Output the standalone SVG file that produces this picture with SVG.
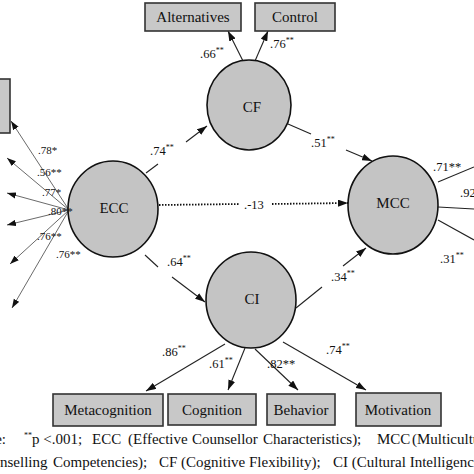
<svg xmlns="http://www.w3.org/2000/svg" width="474" height="474" viewBox="0 0 474 474" font-family="'Liberation Serif', 'DejaVu Serif', serif">
<defs>
<marker id="ah" viewBox="0 0 10 7" refX="10" refY="3.5" markerWidth="10" markerHeight="7" markerUnits="userSpaceOnUse" orient="auto"><path d="M0,0 L10,3.5 L0,7 z" fill="#111"/></marker>
<marker id="ahs" viewBox="0 0 10 7" refX="10" refY="3.5" markerWidth="9" markerHeight="7" markerUnits="userSpaceOnUse" orient="auto"><path d="M0,0 L10,3.5 L0,7 z" fill="#111"/></marker>
</defs>
<style>
text{font-family:'Liberation Serif','DejaVu Serif',serif;fill:#111}
.node{fill:#c4c4c4;stroke:#111;stroke-width:1.6}
.box{fill:#c8c8c8;stroke:#333;stroke-width:1.6}
.nl{font-size:15px;text-anchor:middle}
.bl{font-size:15px;text-anchor:middle}
.lab{font-size:12.5px}
.sl{font-size:11px}
.sup{font-size:8px}
.c{stroke:#222;stroke-width:1.1;fill:none}
.f{stroke:#444;stroke-width:0.8;fill:none}
.note{font-size:15px}
</style>
<g id="connectors">
<line class="c" x1="146" y1="173" x2="158" y2="164"/>
<line class="c" x1="186" y1="142" x2="207" y2="126" marker-end="url(#ah)"/>
<line class="c" x1="288" y1="124" x2="311" y2="134"/>
<line class="c" x1="346" y1="150" x2="372" y2="161" marker-end="url(#ah)"/>
<line x1="159" y1="205" x2="240" y2="204" stroke="#111" stroke-width="1.8" stroke-dasharray="1.5 1.5"/>
<line x1="272" y1="204" x2="348" y2="203" stroke="#111" stroke-width="1.8" stroke-dasharray="1.5 1.5" marker-end="url(#ah)"/>
<line class="c" x1="145" y1="255" x2="158" y2="267"/>
<line class="c" x1="172" y1="277" x2="205" y2="302" marker-end="url(#ah)"/>
<line class="c" x1="296" y1="308" x2="322" y2="287"/>
<line class="c" x1="343" y1="266" x2="366" y2="248" marker-end="url(#ah)"/>
<line class="c" x1="438" y1="182" x2="474" y2="167"/>
<line class="c" x1="438" y1="207" x2="474" y2="209"/>
<line class="c" x1="438" y1="220" x2="474" y2="240"/>
<line class="c" x1="243" y1="61" x2="228" y2="31" marker-end="url(#ah)"/>
<line class="c" x1="255" y1="61" x2="268" y2="31" marker-end="url(#ah)"/>
<line class="c" x1="225" y1="344" x2="146" y2="391" marker-end="url(#ah)"/>
<line class="c" x1="245" y1="348" x2="228" y2="390" marker-end="url(#ah)"/>
<line class="c" x1="255" y1="349" x2="298" y2="390" marker-end="url(#ah)"/>
<line class="c" x1="283" y1="342" x2="366" y2="390" marker-end="url(#ah)"/>
<line class="f" x1="69" y1="210" x2="11" y2="121" marker-end="url(#ahs)"/>
<line class="f" x1="69" y1="210" x2="7" y2="158" marker-end="url(#ahs)"/>
<line class="f" x1="69" y1="210" x2="7" y2="193" marker-end="url(#ahs)"/>
<line class="f" x1="69" y1="210" x2="7" y2="225" marker-end="url(#ahs)"/>
<line class="f" x1="69" y1="210" x2="10" y2="264" marker-end="url(#ahs)"/>
<line class="f" x1="69" y1="210" x2="12" y2="308" marker-end="url(#ahs)"/>
</g>
<g id="ECC"><ellipse class="node" cx="113" cy="209" rx="45" ry="48"/><text class="nl" x="114" y="213" font-size="16">ECC</text></g>
<g id="CF"><ellipse class="node" cx="249" cy="105" rx="42" ry="45"/><text class="nl" x="252" y="112">CF</text></g>
<g id="MCC"><ellipse class="node" cx="393" cy="205" rx="45" ry="49"/><text class="nl" x="393" y="208" font-size="14">MCC</text></g>
<g id="CI"><ellipse class="node" cx="251" cy="300" rx="45" ry="48"/><text class="nl" x="252" y="304">CI</text></g>
<g id="Alternatives"><rect class="box" x="145" y="3" width="96" height="28"/><text class="bl" x="193" y="22">Alternatives</text></g>
<g id="Control"><rect class="box" x="255" y="3" width="80" height="28"/><text class="bl" x="295" y="22">Control</text></g>
<g id="LeftBox"><rect class="box" x="-10" y="79" width="20" height="54"/></g>
<g id="Metacognition"><rect class="box" x="53" y="394" width="110" height="32"/><text class="bl" x="108" y="415">Metacognition</text></g>
<g id="Cognition"><rect class="box" x="168" y="394" width="88" height="31"/><text class="bl" x="212" y="415">Cognition</text></g>
<g id="Behavior"><rect class="box" x="267" y="394" width="68" height="31"/><text class="bl" x="301" y="415">Behavior</text></g>
<g id="Motivation"><rect class="box" x="356" y="393" width="85" height="33"/><text class="bl" x="398" y="415">Motivation</text></g>
<g id="labels">
<text class="lab" x="150" y="155">.74<tspan class="sup" dy="-5">**</tspan></text>
<text class="lab" x="200" y="58">.66<tspan class="sup" dy="-5">**</tspan></text>
<text class="lab" x="270" y="48">.76<tspan class="sup" dy="-5">**</tspan></text>
<text class="lab" x="311" y="147">.51<tspan class="sup" dy="-5">**</tspan></text>
<text class="lab" x="244" y="209">.-13</text>
<text class="lab" x="167" y="266">.64<tspan class="sup" dy="-5">**</tspan></text>
<text class="lab" x="331" y="281">.34<tspan class="sup" dy="-5">**</tspan></text>
<text class="lab" x="433" y="171">.71**</text>
<text class="lab" x="460" y="197">.92**</text>
<text class="lab" x="440" y="263">.31<tspan class="sup" dy="-5">**</tspan></text>
<text class="lab" x="162" y="356">.86<tspan class="sup" dy="-5">**</tspan></text>
<text class="lab" x="209" y="368">.61<tspan class="sup" dy="-5">**</tspan></text>
<text class="lab" x="267" y="368">.82**</text>
<text class="lab" x="326" y="354">.74<tspan class="sup" dy="-5">**</tspan></text>
<text class="sl" x="38" y="154">.78*</text>
<text class="sl" x="37" y="176">.56**</text>
<text class="sl" x="42" y="196">.77*</text>
<text class="sl" x="48" y="215">.80**</text>
<text class="sl" x="37" y="240">.76**</text>
<text class="sl" x="56" y="258">.76**</text>
</g>
<g id="note">
<text class="note" y="444"><tspan x="6" text-anchor="end">Note:</tspan><tspan x="24" class="sup" dy="-6">**</tspan><tspan x="32" dy="6">p &lt;.001;</tspan><tspan x="92">ECC</tspan><tspan x="128">(Effective</tspan><tspan x="192">Counsellor</tspan><tspan x="263">Characteristics);</tspan><tspan x="377">MCC</tspan><tspan x="412">(Multicultural</tspan></text>
<text class="note" y="467"><tspan x="-25">Counselling</tspan><tspan x="53">Competencies);</tspan><tspan x="159">CF (Cognitive Flexibility);</tspan><tspan x="333">CI (Cultural Intelligence)</tspan></text>
</g>
</svg>
